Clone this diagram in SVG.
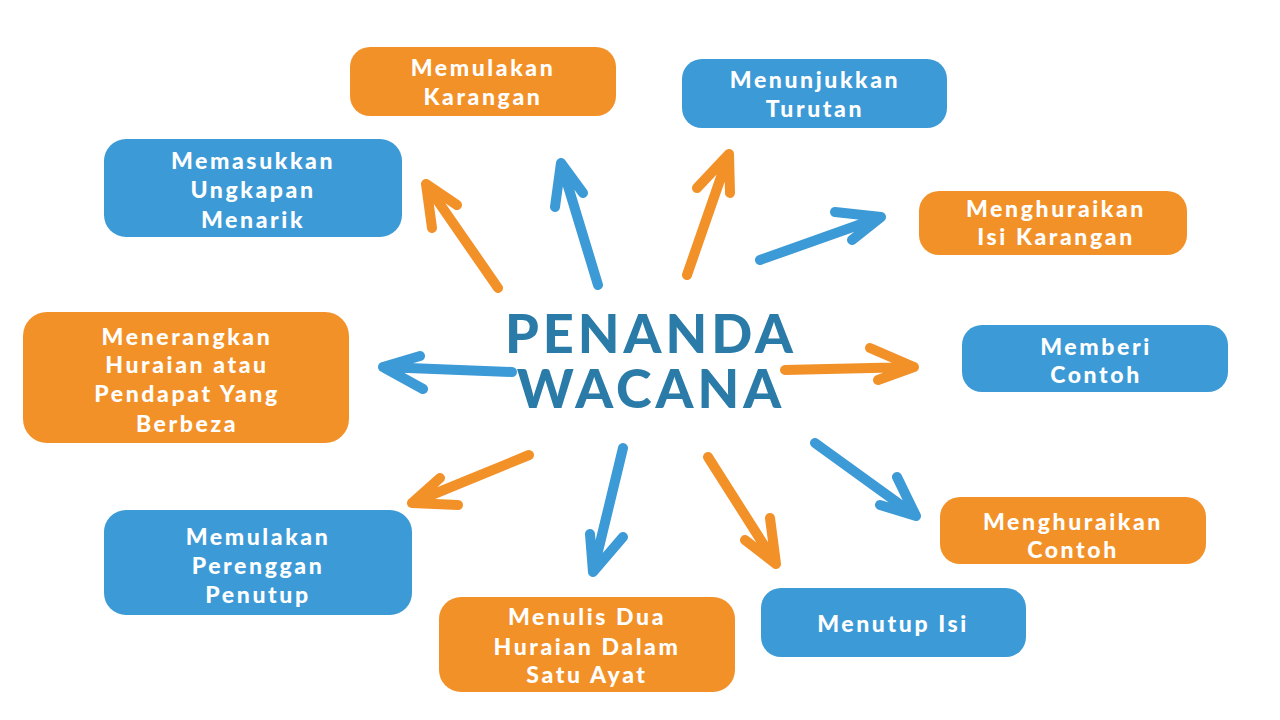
<svg xmlns="http://www.w3.org/2000/svg" width="1280" height="720" viewBox="0 0 1280 720">
<style>
.o{fill:#F39129}
.b{fill:#3C9AD6}
.t{fill:#ffffff;font-family:Lato,"Noto Sans",sans-serif;font-weight:900;font-size:23px;letter-spacing:2.6px;text-anchor:middle}
.ao{stroke:#F39129;fill:none;stroke-width:10;stroke-linecap:round;stroke-linejoin:round}
.ab{stroke:#3C9AD6;fill:none;stroke-width:10;stroke-linecap:round;stroke-linejoin:round}
.c{fill:#2A7BA8;font-family:Lato,"Noto Sans",sans-serif;font-weight:900;font-size:54px;letter-spacing:4px;text-anchor:middle}
</style>
<rect width="1280" height="720" fill="#ffffff"/>
<g id="connectors">
<path class="ao" d="M498,288 L426,184 M457,205 L426,184 L432,228"/>
<path class="ab" d="M598,285 L561,163 M583,193 L561,163 L555,207"/>
<path class="ao" d="M687,275 L729,154 M697,188 L729,154 L730,193"/>
<path class="ab" d="M760,260 L881,217 M835,212 L881,217 L852,240"/>
<path class="ao" d="M785,370 L914,367 M870,348 L914,367 L878,380"/>
<path class="ab" d="M512,372 L383,367 M420,356 L383,367 L423,389"/>
<path class="ao" d="M529,455 L412,503 M440,478 L412,503 L458,505"/>
<path class="ab" d="M623,448 L593,572 M590,534 L593,572 L623,537"/>
<path class="ao" d="M708,457 L776,564 M745,540 L776,564 L770,518"/>
<path class="ab" d="M815,443 L916,516 M880,505 L916,516 L897,477"/>
</g>
<g id="center">
<text class="c" x="651" y="353">PENANDA</text>
<text class="c" x="651" y="408">WACANA</text>
</g>
<g id="n1"><rect class="o" x="350" y="47" width="266" height="69" rx="20"/><text class="t" x="483" y="76">Memulakan</text><text class="t" x="483" y="105">Karangan</text></g>
<g id="n2"><rect class="b" x="682" y="59" width="265" height="69" rx="20"/><text class="t" x="815" y="88">Menunjukkan</text><text class="t" x="815" y="117">Turutan</text></g>
<g id="n3"><rect class="b" x="104" y="139" width="298" height="98" rx="22"/><text class="t" x="253" y="169">Memasukkan</text><text class="t" x="253" y="198">Ungkapan</text><text class="t" x="253" y="228">Menarik</text></g>
<g id="n4"><rect class="o" x="919" y="191" width="268" height="64" rx="20"/><text class="t" x="1056" y="217">Menghuraikan</text><text class="t" x="1056" y="245">Isi Karangan</text></g>
<g id="n5"><rect class="o" x="23" y="312" width="326" height="131" rx="24"/><text class="t" x="187" y="345">Menerangkan</text><text class="t" x="187" y="373">Huraian atau</text><text class="t" x="187" y="402">Pendapat Yang</text><text class="t" x="187" y="432">Berbeza</text></g>
<g id="n6"><rect class="b" x="962" y="325" width="266" height="67" rx="20"/><text class="t" x="1096" y="355">Memberi</text><text class="t" x="1096" y="383">Contoh</text></g>
<g id="n7"><rect class="b" x="104" y="510" width="308" height="105" rx="22"/><text class="t" x="258" y="545">Memulakan</text><text class="t" x="258" y="574">Perenggan</text><text class="t" x="258" y="603">Penutup</text></g>
<g id="n8"><rect class="o" x="940" y="497" width="266" height="67" rx="20"/><text class="t" x="1073" y="530">Menghuraikan</text><text class="t" x="1073" y="558">Contoh</text></g>
<g id="n9"><rect class="o" x="439" y="597" width="296" height="95" rx="22"/><text class="t" x="587" y="625">Menulis Dua</text><text class="t" x="587" y="655">Huraian Dalam</text><text class="t" x="587" y="683">Satu Ayat</text></g>
<g id="n10"><rect class="b" x="761" y="588" width="265" height="69" rx="20"/><text class="t" x="893" y="632">Menutup Isi</text></g>
</svg>
